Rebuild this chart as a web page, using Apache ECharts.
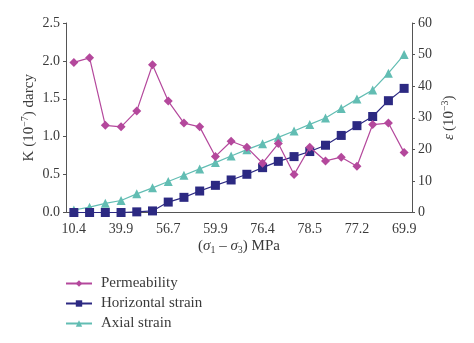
<!DOCTYPE html>
<html>
<head>
<meta charset="utf-8">
<script src="https://cdn.jsdelivr.net/npm/echarts@6/dist/echarts.min.js"></script>
<style>
  html, body { margin: 0; padding: 0; background: #fff; }
  #chart { width: 474px; height: 343px; }
</style>
</head>
<body>
<div id="chart"></div>
<script>
// Loading stages (22 measurements); every third one carries a stress label
const stages = Array.from({ length: 22 }, (_, i) => i + 1);
const stressLabels = ['10.4', '39.9', '56.7', '59.9', '76.4', '78.5', '77.2', '69.9'];

// Permeability K (10^-7 darcy), left axis
const permeability = [1.98, 2.04, 1.15, 1.13, 1.34, 1.95, 1.47, 1.18, 1.13, 0.74, 0.94, 0.86,
                      0.65, 0.91, 0.50, 0.86, 0.68, 0.73, 0.61, 1.16, 1.18, 0.79];
// Horizontal strain (10^-3), right axis
const horizontalStrain = [0, 0, 0, 0, 0.2, 0.5, 3.3, 4.8, 6.8, 8.6, 10.3, 12.1,
                          14.2, 16.2, 17.7, 19.3, 21.3, 24.4, 27.5, 30.4, 35.4, 39.3];
// Axial strain (10^-3), right axis
const axialStrain = [0.8, 1.7, 2.9, 3.8, 5.9, 7.8, 9.8, 11.8, 13.8, 15.8, 17.9, 19.9,
                     21.8, 23.8, 25.8, 27.9, 29.9, 32.9, 35.9, 38.8, 44.1, 50.0];

const FONT = 'Liberation Serif';
const TEXT = '#3a3a3a';
const AXIS = '#555';

const C_PERM = '#b4489c';
const C_HOR = '#2c2982';
const C_AX = '#62bdb3';

const base = { fontFamily: FONT, fontSize: 15, color: TEXT };
const richMarks = {
  n: { ...base },
  i: { ...base, fontStyle: 'italic' },
  sup: { ...base, fontSize: 10, verticalAlign: 'top', padding: [0, 0, 8, 0] },
  sub: { ...base, fontSize: 10, padding: [8, 0, 0, 0] }
};

const chart = echarts.init(document.getElementById('chart'), null, { renderer: 'canvas' });

chart.setOption({
  animation: false,
  backgroundColor: '#fff',
  textStyle: { fontFamily: FONT },
  grid: { left: 66, right: 62, top: 23, bottom: 130.5, containLabel: false },
  legend: {
    orient: 'vertical',
    left: 60,
    top: 271,
    itemWidth: 26,
    itemHeight: 8,
    itemGap: 5,
    textStyle: { fontFamily: FONT, fontSize: 15, color: TEXT, padding: [0, 0, 0, 4] },
    data: ['Permeability', 'Horizontal strain', 'Axial strain']
  },
  xAxis: {
    type: 'category',
    data: stages,
    boundaryGap: true,
    name: '{n|(}{i|σ}{sub|1}{n| – }{i|σ}{sub|3}{n|) MPa}',
    nameLocation: 'middle',
    nameGap: 25,
    nameMoveOverlap: false,
    nameTextStyle: { rich: richMarks },
    axisLine: { lineStyle: { color: AXIS, width: 1 } },
    axisTick: { inside: true, length: 3, interval: 0, lineStyle: { color: AXIS } },
    axisLabel: {
      interval: 0,
      margin: 10,
      fontFamily: FONT, fontSize: 14, color: TEXT,
      formatter: (v, idx) => (idx % 3 === 0 ? stressLabels[idx / 3] : '')
    },
    splitLine: { show: false }
  },
  yAxis: [
    {
      type: 'value',
      min: 0, max: 2.5, interval: 0.5,
      position: 'left',
      name: '{n|K (10}{sup|−7}{n|) darcy}',
      nameLocation: 'middle',
      nameGap: 28,
      nameMoveOverlap: false,
      nameTextStyle: { rich: richMarks },
      axisLine: { show: true, lineStyle: { color: AXIS } },
      axisTick: { show: true, length: 3, lineStyle: { color: AXIS } },
      axisLabel: { margin: 6, fontFamily: FONT, fontSize: 14, color: TEXT, formatter: v => v.toFixed(1) },
      splitLine: { show: false }
    },
    {
      type: 'value',
      min: 0, max: 60, interval: 10,
      position: 'right',
      name: '{i|ε} {n|(10}{sup|−3}{n|)}',
      nameLocation: 'middle',
      nameGap: 28,
      nameMoveOverlap: false,
      nameTextStyle: { rich: richMarks },
      axisLine: { show: true, lineStyle: { color: AXIS } },
      axisTick: { show: true, length: 3, lineStyle: { color: AXIS } },
      axisLabel: { margin: 6, fontFamily: FONT, fontSize: 14, color: TEXT },
      splitLine: { show: false }
    }
  ],
  series: [
    {
      name: 'Permeability',
      type: 'line',
      yAxisIndex: 0,
      data: permeability,
      symbol: 'diamond',
      symbolSize: 9,
      itemStyle: { color: C_PERM },
      lineStyle: { color: C_PERM, width: 1.2 },
      z: 3
    },
    {
      name: 'Horizontal strain',
      type: 'line',
      yAxisIndex: 1,
      data: horizontalStrain,
      symbol: 'rect',
      symbolSize: 9,
      itemStyle: { color: C_HOR },
      lineStyle: { color: C_HOR, width: 1.2 },
      z: 2
    },
    {
      name: 'Axial strain',
      type: 'line',
      yAxisIndex: 1,
      data: axialStrain,
      symbol: 'triangle',
      symbolSize: 9,
      itemStyle: { color: C_AX },
      lineStyle: { color: C_AX, width: 1.2 },
      z: 1
    }
  ]
});
</script>
</body>
</html>
